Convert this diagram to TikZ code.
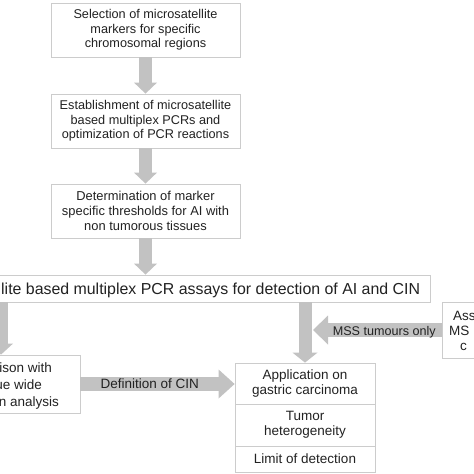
\documentclass[tikz,border=0pt]{standalone}
\usepackage{fontspec}
\setmainfont{Liberation Sans}
\usetikzlibrary{arrows.meta}
\definecolor{arrowgray}{HTML}{C2C2C2}
\definecolor{boxline}{HTML}{CCCCCC}
\definecolor{txt}{HTML}{222222}
\begin{document}
\begin{tikzpicture}[x=1pt,y=-1pt,
  box/.style={draw=boxline, line width=0.8pt, fill=white, inner sep=0pt, text=txt, align=center},
  topbox/.style={box, minimum width=189pt, minimum height=54pt, font=\fontsize{12.7}{14.6}\selectfont},
  resbox/.style={box, minimum width=140pt, font=\fontsize{13.5}{15}\selectfont},
  lbl/.style={inner sep=0pt, text=txt, font=\fontsize{13.5}{15}\selectfont},
  fatarrow/.style={draw=arrowgray, line width=13pt, -{Triangle[width=23pt,length=11pt,line width=0pt]}},
  widearrow/.style={draw=arrowgray, line width=14.5pt, -{Triangle[width=29pt,length=16pt,line width=0pt]}}]
\useasboundingbox (0,0) rectangle (474,474);
% top chain
\node[topbox] (b1) at (145.5,30) {Selection of microsatellite\\markers for specific\\chromosomal regions};
\node[topbox] (b2) at (145.5,121) {Establishment of microsatellite\\based multiplex PCRs and\\optimization of PCR reactions};
\node[topbox, font=\fontsize{12.9}{15}\selectfont] (b3) at (145.5,211) {Determination of marker\\specific thresholds for AI with\\non tumorous tissues};
% wide box
\node[box, minimum width=510pt, minimum height=27pt] (b4) at (175,288.5) {};
\node[lbl, anchor=base west, font=\fontsize{15.9}{18}\selectfont] (t4) at (1,294.6) {lite based multiplex PCR assays for detection of AI and CIN};
% left box (cropped)
\node[box, minimum width=180pt, minimum height=58pt] (b5) at (-10,384) {};
\node[lbl, anchor=base east] (t5a) at (52,372) {ison with};
\node[lbl, anchor=base east] (t5b) at (42,389) {ue wide};
\node[lbl, anchor=base east] (t5c) at (59,406) {n analysis};
% result box
\node[resbox, minimum height=41pt] (b6a) at (305,383.5) {Application on\\gastric carcinoma};
\node[resbox, minimum height=42pt] (b6b) at (305,425) {Tumor\\heterogeneity};
\node[resbox, minimum height=26pt] (b6c) at (305,459) {Limit of detection};
% right box (cropped)
\node[box, minimum width=100pt, minimum height=56pt] (b7) at (492,330) {};
\node[lbl, anchor=base west] (t7a) at (453,320) {Ass};
\node[lbl, anchor=base west] (t7b) at (449,335) {MS};
\node[lbl, anchor=base west] (t7c) at (460,350.5) {c};
\coordinate (lx) at (1,0);
\coordinate (rx) at (313,0);
% connectors
\draw[fatarrow] (b1.south) -- (b2.north);
\draw[fatarrow] (b2.south) -- (b3.north);
\draw[fatarrow] (b3.south) -- (b3.south |- b4.north);
\draw[fatarrow, -{Triangle[width=24pt,length=11pt,line width=0pt]}] (lx |- b4.south) -- (lx |- b5.north);
\draw[fatarrow, -{Triangle[width=25pt,length=10pt,line width=0pt]}] (b6a.north |- b4.south) -- (b6a.north);
\draw[widearrow] (b5.east) -- node[lbl, pos=0.45] (l1) {Definition of CIN} (b6a.west |- b5.east);
\draw[draw=arrowgray, line width=14pt, -{Triangle[width=29pt,length=15pt,line width=0pt]}] (b7.west) -- node[lbl, pos=0.446, font=\fontsize{12.6}{14}\selectfont, text depth=0pt, yshift=-1pt] (l2) {MSS tumours only} (rx |- b7.west);
\end{tikzpicture}
\end{document}
